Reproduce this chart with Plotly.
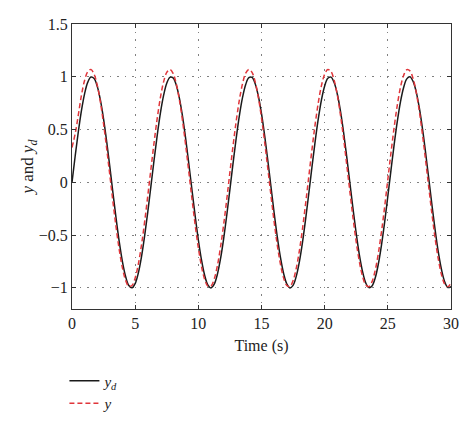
import plotly.graph_objects as go

# Time samples (s)
time_s = [i * 0.25 for i in range(121)]

# Desired output y_d
y_d = [
    0.000, 0.247, 0.479, 0.682, 0.841, 0.949, 0.997, 0.984, 0.909, 0.778,
    0.598, 0.382, 0.141, -0.108, -0.351, -0.572, -0.757, -0.895, -0.978, -0.999,
    -0.959, -0.859, -0.706, -0.508, -0.279, -0.033, 0.215, 0.450, 0.657, 0.823,
    0.938, 0.995, 0.989, 0.922, 0.798, 0.625, 0.412, 0.173, -0.075, -0.320,
    -0.544, -0.735, -0.880, -0.971, -1.000, -0.967, -0.875, -0.728, -0.537, -0.312,
    -0.066, 0.182, 0.420, 0.632, 0.804, 0.927, 0.991, 0.994, 0.935, 0.818,
    0.650, 0.442, 0.207, -0.042, -0.288, -0.516, -0.712, -0.863, -0.961, -1.000,
    -0.976, -0.891, -0.751, -0.564, -0.342, -0.099, 0.150, 0.390, 0.605, 0.784,
    0.913, 0.986, 0.997, 0.946, 0.837, 0.675, 0.472, 0.239, -0.009, -0.256,
    -0.487, -0.689, -0.846, -0.952, -0.997, -0.982, -0.906, -0.773, -0.592, -0.375,
    -0.132, 0.116, 0.358, 0.578, 0.763, 0.899, 0.980, 0.999, 0.956, 0.855,
    0.700, 0.501, 0.271, 0.025, -0.223, -0.457, -0.664, -0.828, -0.941, -0.996,
    -0.988,
]

y_out = [
    0.330, 0.460, 0.638, 0.827, 0.967, 1.049, 1.069, 1.024, 0.919, 0.759,
    0.553, 0.317, 0.062, -0.193, -0.434, -0.646, -0.815, -0.930, -0.986, -0.977,
    -0.906, -0.775, -0.595, -0.373, -0.127, 0.129, 0.380, 0.610, 0.805, 0.952,
    1.042, 1.070, 1.033, 0.935, 0.782, 0.583, 0.349, 0.096, -0.160, -0.404,
    -0.619, -0.796, -0.919, -0.983, -0.983, -0.918, -0.795, -0.619, -0.405, -0.162,
    0.096, 0.347, 0.581, 0.782, 0.935, 1.035, 1.070, 1.042, 0.952, 0.805,
    0.611, 0.381, 0.131, -0.126, -0.373, -0.594, -0.775, -0.905, -0.977, -0.987,
    -0.931, -0.815, -0.647, -0.435, -0.194, 0.062, 0.315, 0.553, 0.757, 0.919,
    1.024, 1.069, 1.050, 0.967, 0.828, 0.639, 0.414, 0.164, -0.092, -0.341,
    -0.566, -0.754, -0.891, -0.972, -0.988, -0.941, -0.834, -0.672, -0.466, -0.229,
    0.027, 0.281, 0.521, 0.732, 0.900, 1.013, 1.067, 1.056, 0.982, 0.850,
    0.668, 0.445, 0.198, -0.057, -0.308, -0.537, -0.731, -0.876, -0.964, -0.991,
    -0.951,
]

x_ticks = [0, 5, 10, 15, 20, 25, 30]
y_ticks = [-1, -0.5, 0, 0.5, 1, 1.5]

serif = "Liberation Serif, Times New Roman, serif"

trace_yd = go.Scatter(
    x=time_s, y=y_d, mode="lines", name="<i>y<sub>d</sub></i>",
    line=dict(color="#1a1a1a", width=1.5, shape="spline"),
)
trace_y = go.Scatter(
    x=time_s, y=y_out, mode="lines", name="<i>y</i>",
    line=dict(color="#e0353a", width=1.5, dash="5px,3px", shape="spline"),
)

axis_common = dict(
    showline=True, linecolor="#333333", linewidth=1.2, mirror="ticks",
    ticks="inside", ticklen=4, tickcolor="#333333",
    showgrid=True, gridcolor="#808080", griddash="1.5px,6px", gridwidth=1.2,
    zeroline=False, automargin=False,
    tickfont=dict(family=serif, size=16, color="#222222"),
)

# page body adds an 8px offset, so margins are shifted to compensate
layout = go.Layout(
    width=474, height=424,
    margin=dict(l=64, r=31, t=16, b=121),
    paper_bgcolor="white", plot_bgcolor="white",
    font=dict(family=serif, size=16, color="#222222"),
    xaxis=dict(
        axis_common, range=[0, 30], tickvals=x_ticks,
        title=dict(text="Time (s)", standoff=8, font=dict(family=serif, size=16)),
    ),
    yaxis=dict(
        axis_common, range=[-1.2, 1.5], tickvals=y_ticks,
        ticktext=["\u22121", "\u22120.5", "0", "0.5", "1", "1.5"],
        title=dict(text="<i>y</i> and <i>y<sub>d</sub></i>", standoff=0,
                   font=dict(family=serif, size=17)),
    ),
    showlegend=True,
    legend=dict(
        x=-0.02, y=-0.195, xanchor="left", yanchor="top",
        bgcolor="rgba(0,0,0,0)", tracegroupgap=0,
        font=dict(family=serif, size=15), itemwidth=30,
    ),
)

fig = go.Figure(data=[trace_yd, trace_y], layout=layout)
fig.write_html("out.html")
